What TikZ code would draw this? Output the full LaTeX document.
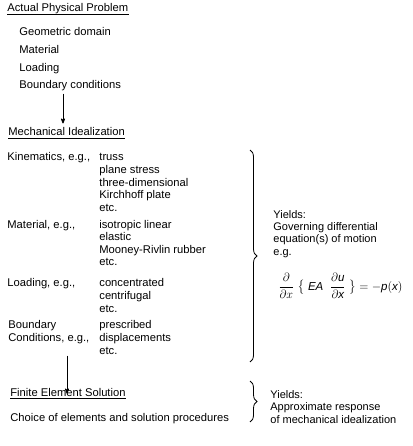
\documentclass[tikz,border=0pt]{standalone}
\usepackage{amsmath}
\usepackage{fontspec}
\setmainfont{Liberation Sans}
\usetikzlibrary{arrows,decorations.pathreplacing,positioning}

\begin{document}
\begin{tikzpicture}[x=1pt,y=-1pt,->,>=stealth',line width=0.8pt,
                    shorten >=6pt,font=\fontsize{11.2}{13}\selectfont]

  \tikzstyle{every node}=[anchor=base west,inner sep=0pt]
  \tikzstyle{result}=[font=\fontsize{11}{13}\selectfont]
  \tikzstyle{underlined}=[-,shorten >=0pt]
  \tikzstyle{bracket}=[-,shorten >=0pt,decorate,decoration={brace,amplitude=7pt}]

  \useasboundingbox (0,0) rectangle (412,446);

  % actual physical problem
  \node (AP) at (7,12) {Actual Physical Problem};
  \foreach \t [count=\i] in {Geometric domain,Material,Loading}
    \node (AP\i) at (19,{36+18*(\i-1)}) {\t};
  \node (BC) at (19,89) {Boundary conditions};

  % mechanical idealization
  \node (MI) at (8,136) {Mechanical Idealization};
  \node (KI) at (7,161) {Kinematics, e.g.,};
  \foreach \t [count=\i] in {truss,plane stress,three-dimensional,Kirchhoff plate,etc.}
    \node (KI\i) at (99,{161+12.6*(\i-1)}) {\t};
  \node (MA) at (7,228) {Material, e.g.,};
  \foreach \t [count=\i] in {isotropic linear,elastic,Mooney-Rivlin rubber,etc.}
    \node (MA\i) at (99,{228+12.6*(\i-1)}) {\t};
  \node (LO) at (7,286) {Loading, e.g.,};
  \foreach \t [count=\i] in {concentrated,centrifugal,etc.}
    \node (LO\i) at (99,{286+13*(\i-1)}) {\t};
  \node (BO) at (8,328) {Boundary};
  \node (CO) at (8,341) {Conditions, e.g.,};
  \foreach \t [count=\i] in {prescribed,displacements,etc.}
    \node (BO\i) at (99,{328+13*(\i-1)}) {\t};

  % finite element solution
  \node (FE) at (10,396) {Finite Element Solution};
  \node (CH) at (10,421) {Choice of elements and solution procedures};

  % results
  \foreach \t [count=\i] in {Yields:,Governing differential,equation(s) of motion,e.g.,}
    \node[result] (GE\i) at (273,{218+12.4*(\i-1)}) {\t};
  \node[font=\fontsize{11.5}{14}\selectfont] (EQ) at (278,290)
    {$\dfrac{\partial}{\partial x}\;\bigl\{\;\textit{EA}\;\;\dfrac{\partial \textit{u}}{\partial \textit{x}}\;\bigr\} = -\textit{p}(\textit{x})$};
  \foreach \t [count=\i] in {Yields:,Approximate response,of mechanical idealization}
    \node[result] (AR\i) at (270,{398+12.5*(\i-1)}) {\t};

  \coordinate (B1) at (250,150);
  \coordinate (B2) at (250,362);
  \coordinate (B3) at (250,381);
  \coordinate (B4) at (250,422);

  \draw[underlined] ([yshift=-2.5pt]AP.base west) -- ([yshift=-2.5pt]AP.base east);
  \draw[underlined] ([yshift=-2.5pt]MI.base west) -- ([yshift=-2.5pt]MI.base east);
  \draw[underlined] ([yshift=-2.5pt]FE.base west) -- ([yshift=-2.5pt]FE.base east);

  \draw ([xshift=44pt,yshift=-2pt]BC.south west) -- ([xshift=44pt,yshift=-2pt]BC.south west |- MI.north);
  \draw ([xshift=59pt,yshift=-12pt]CO.south west) -- ([xshift=59pt,yshift=-12pt]CO.south west |- FE.north);

  \draw[bracket] (B1) -- (B2);
  \draw[bracket] (B3) -- (B4);
\end{tikzpicture}
\end{document}
